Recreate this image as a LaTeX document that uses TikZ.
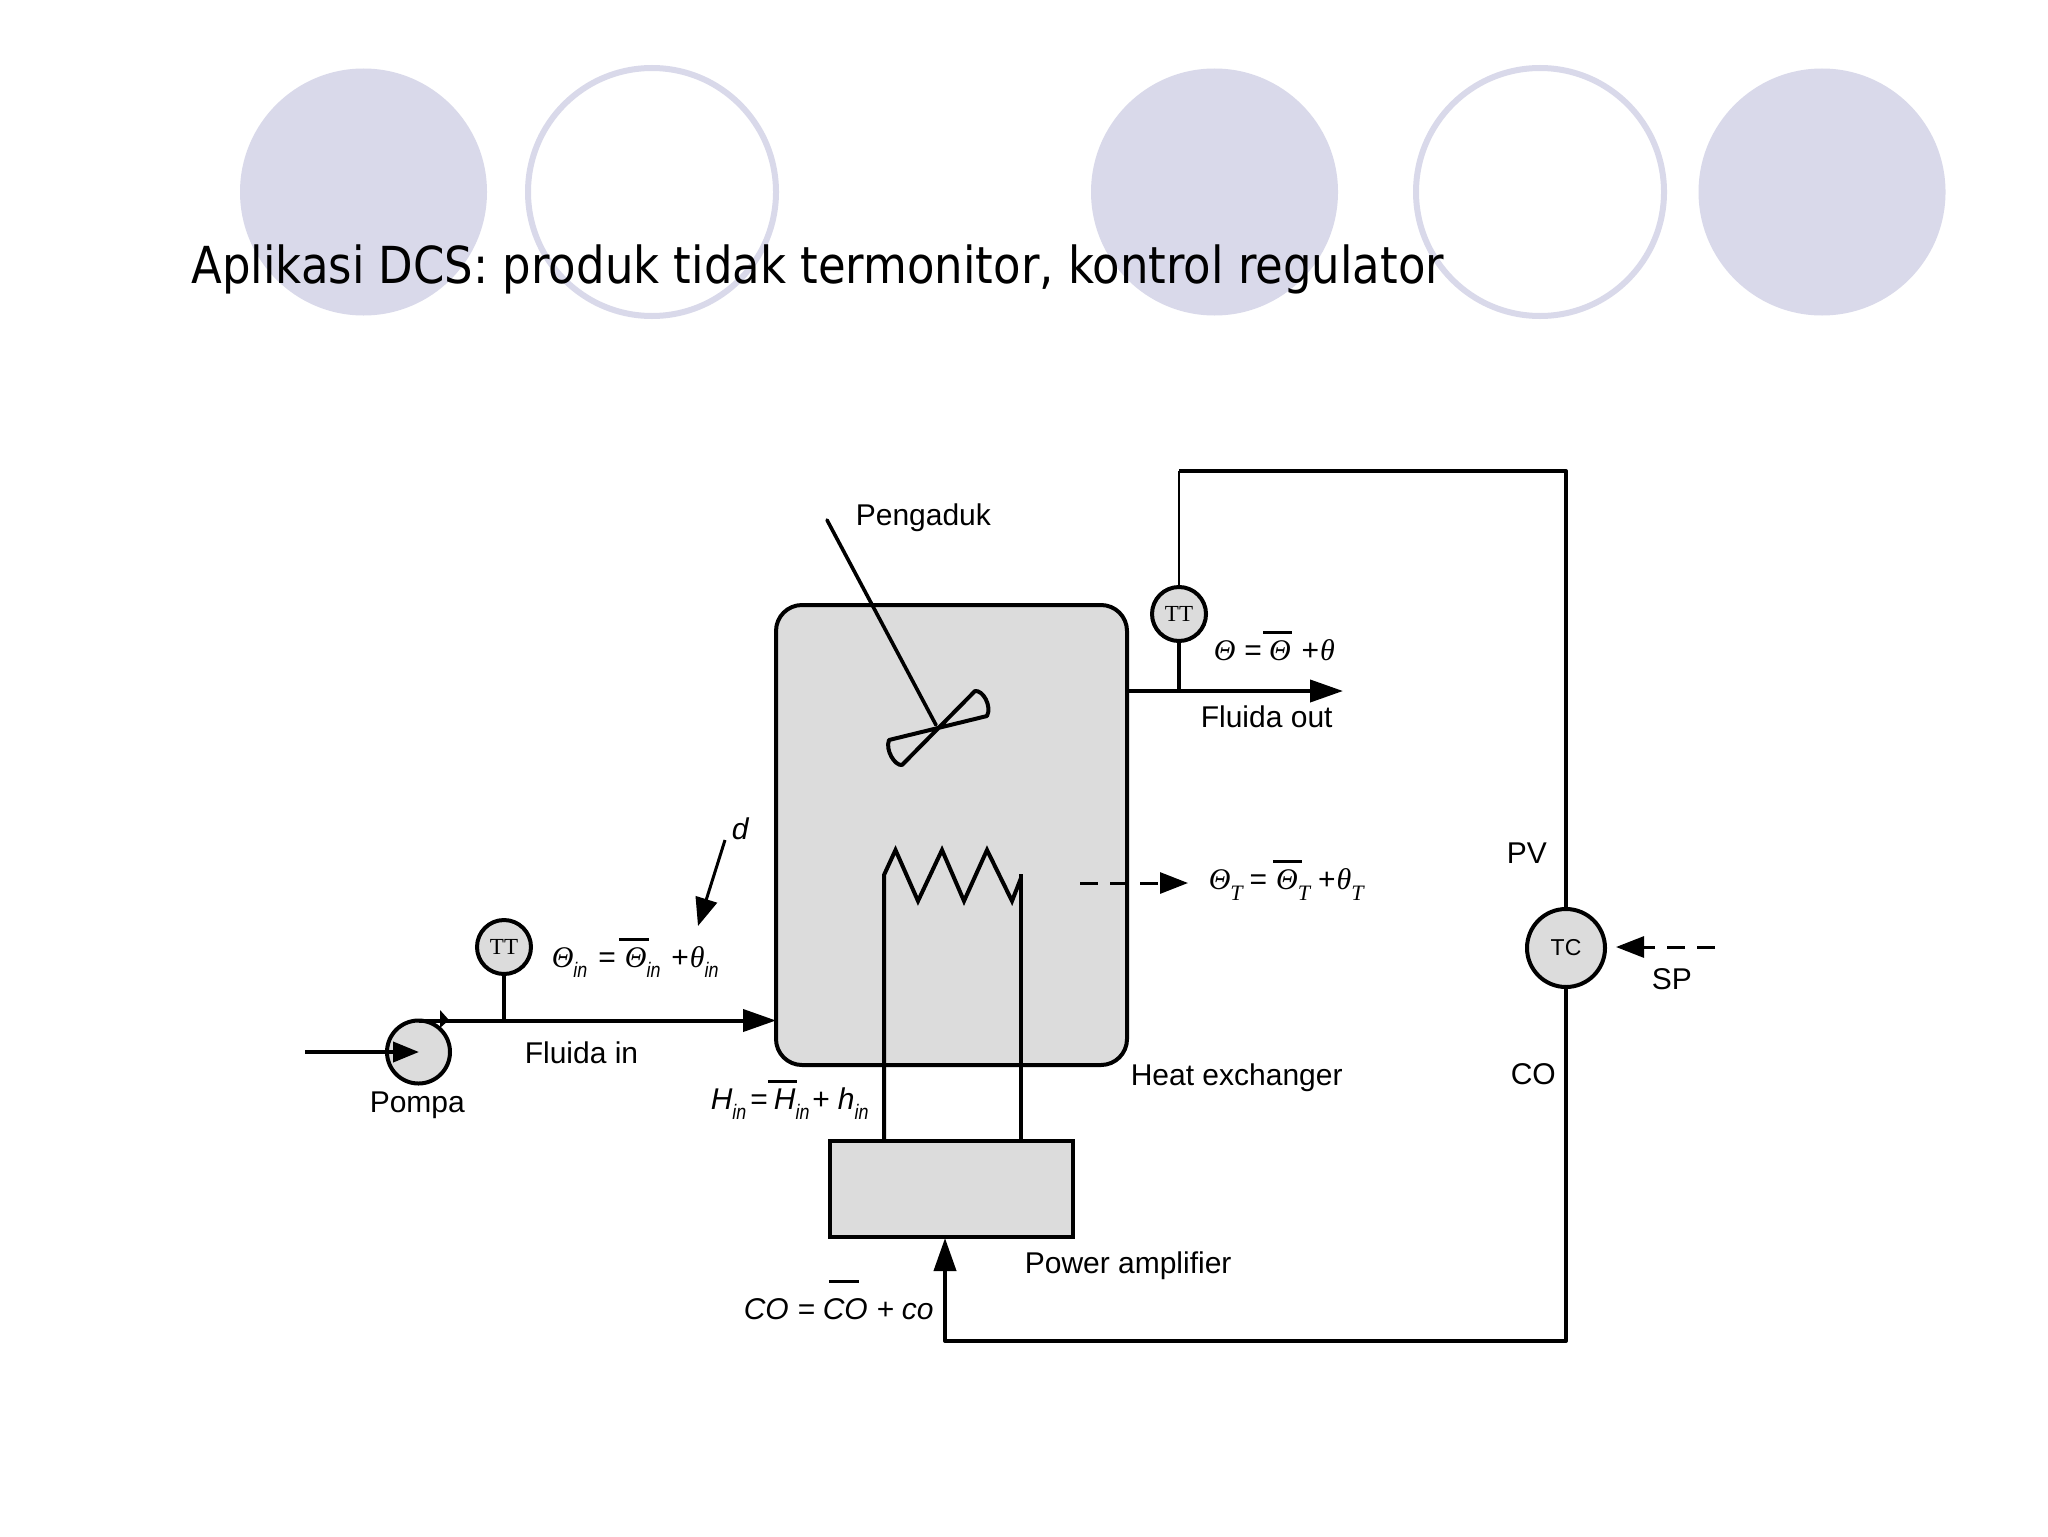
\documentclass[tikz,border=0pt]{standalone}
\usepackage{fontspec}
\usetikzlibrary{arrows.meta}
\setmainfont{Liberation Sans}
\newfontfamily\timesf{Liberation Serif}
\newfontfamily\titlef[FakeStretch=0.882]{DejaVu Sans}
\definecolor{lav}{HTML}{D9D9EA}
\definecolor{fillgray}{HTML}{DCDCDC}
\newcommand\sbs[1]{\raisebox{-5pt}{\scalebox{.85}[1]{\fontsize{10.5}{10.5}\selectfont\itshape #1}}}
\newcommand\sbT{\raisebox{-5.5pt}{\fontsize{11}{11}\selectfont\timesf\itshape T}}
\newcommand\Th{{\timesf\itshape Θ}}
\newcommand\thh{{\timesf\itshape θ}}
\newcommand\ovl[3]{\rlap{\kern #3\raisebox{#1}{\rule{#2}{1.6pt}}}}
\tikzset{
  x=0.5pt,y=-0.5pt,
  pipe/.style={line width=2pt,line join=round},
  thinpipe/.style={line width=1.2pt},
  flow/.style={pipe,-{Triangle[length=16.5pt,width=11pt]}},
  dashflow/.style={line width=1.5pt,dash pattern=on 9pt off 6pt,-{Triangle[length=14pt,width=10.5pt]}},
  deco/.style={circle,fill=lav,draw=none,minimum size=123.5pt,inner sep=0pt},
  ring/.style={circle,fill=white,draw=lav,line width=3pt,minimum size=124pt,inner sep=0pt,outer sep=0pt},
  instr/.style={circle,draw,fill=fillgray,line width=2pt,inner sep=0pt,outer sep=0pt},
  tlabel/.style={anchor=base west,inner sep=0pt,outer sep=0pt,xshift=-0.6pt,font=\fontsize{15}{15}\selectfont},
  ilabel/.style={tlabel,font=\fontsize{15}{15}\selectfont\itshape},
}
\begin{document}
\begin{tikzpicture}
\useasboundingbox (0,0) rectangle (2048,1536);
\fill[white] (0,0) rectangle (2048,1536);
% decorative circles
\node[deco] (c1) at (363.5,192) {};
\node[ring] (c2) at (652,192) {};
\node[deco] (c3) at (1214.5,192) {};
\node[ring] (c4) at (1540,192) {};
\node[deco] (c5) at (1822,192) {};
\node[anchor=base west,inner sep=0pt] (title) at (191,283) {\fontsize{25.5}{26}\selectfont\titlef Aplikasi DCS: produk tidak termonitor, kontrol regulator};
% vessel
\node[draw,fill=fillgray,line width=2pt,rounded corners=13pt,minimum width=175.5pt,minimum height=230pt,inner sep=0pt,outer sep=0pt] (vessel) at (951.5,835) {};
% power amplifier
\node[draw,fill=fillgray,line width=2pt,minimum width=121.5pt,minimum height=48pt,inner sep=0pt,outer sep=0pt] (pa) at (951.5,1189) {};
% instruments
\node[instr,minimum size=31.5pt] (pump) at (418.5,1052) {};
\node[instr,minimum size=27pt,font=\fontsize{11.5}{12}\selectfont\timesf] (ttin) at (504,947) {TT};
\node[instr,minimum size=27pt,font=\fontsize{11.5}{12}\selectfont\timesf] (ttout) at (1179,614) {TT};
\node[instr,minimum size=39pt,font=\fontsize{11.5}{12}\selectfont] (tc) at (1566,948) {TC};
% helper coordinates
\coordinate (inletS) at (305,1052);
\coordinate (pumpC) at (419,1052);
\coordinate (ttinFoot) at (504,1020);
\coordinate (outEnd) at (1343,691);
\coordinate (ttoutFoot) at (1179,691);
\coordinate (topL) at (1179,471);
\coordinate (topR) at (1566,471);
\coordinate (botR) at (1566,1341);
\coordinate (botL) at (945,1341);
\coordinate (paIn) at (945,1238);
\coordinate (dS) at (725,840);
\coordinate (dE) at (698,926);
\coordinate (shaftT) at (827,520);
\coordinate (shaftB) at (936,725);
\coordinate (coilL) at (884,875);
\coordinate (coilR) at (1021,874);
\coordinate (dT1) at (1080,883);
\coordinate (dT2) at (1188,883);
\coordinate (sp1) at (1715,947);
\coordinate (sp2) at (1616,947);
% inlet and fluid in
\draw[line width=2pt,-{Triangle[length=13pt,width=10pt]}] (inletS) -- (pumpC);
\draw[flow] (pump.north) -- (vessel.west |- pump.north);
\fill (440,1010) -- (449,1020) -- (440,1028) -- cycle;
\draw[pipe] (ttin.south) -- (ttinFoot);
% fluid out
\draw[flow] (vessel.east |- outEnd) -- (outEnd);
\draw[pipe] (ttout.south) -- (ttoutFoot);
\draw[thinpipe] (ttout.north) -- (topL);
\draw[pipe] (topL) -- (topR) -- (tc.north);
% control output
\draw[flow] (tc.south) -- (botR) -- (botL) -- (paIn);
% disturbance
\draw[line width=1.5pt,-{Triangle[length=14pt,width=11pt]}] (dS) -- (dE);
% stirrer
\draw[line width=1.8pt,line cap=round] (shaftT) -- (shaftB);
\draw[line width=2pt,line join=round] (987,716) -- (889,740) .. controls (885,750) and (895,766) .. (902,765) -- (975,691) .. controls (983,690) and (992,706) .. (987,716) -- cycle;
% coil
\draw[pipe,line join=miter] (pa.north -| coilL) -- (coilL) -- (895.5,850) -- (918,901) -- (942,850) -- (964,901) -- (987,850) -- (1012,901) -- (1021,878);
\draw[pipe] (pa.north -| coilR) -- (coilR);
% dashed signals
\draw[dashflow] (dT1) -- (dT2);
\draw[dashflow] (sp1) -- (sp2);
% labels
\node[tlabel] (lpeng) at (857,525) {Pengaduk};
\node[tlabel] (lfout) at (1202,727) {Fluida out};
\node[tlabel] (lfin) at (526,1063) {Fluida in};
\node[tlabel] (lpompa) at (371,1112) {Pompa};
\node[tlabel] (lhx) at (1132,1085) {Heat exchanger};
\node[tlabel] (lpa) at (1026,1273) {Power amplifier};
\node[tlabel] (lpv) at (1508,863) {PV};
\node[tlabel] (lco) at (1512,1084) {CO};
\node[tlabel] (lsp) at (1653,989) {SP};
\node[ilabel] (ld) at (733,839) {d};
% formulas
\node[tlabel] (fin) at (553,967) {\Th\sbs{in}\kern5.5pt=\kern4.5pt\ovl{12.8pt}{15pt}{-3pt}\Th\sbs{in}\kern5.5pt+\kern.5pt\thh\sbs{in}};
\node[tlabel] (fout) at (1215,660) {\Th\kern4.5pt=\kern3.5pt\ovl{13pt}{14.5pt}{-3pt}\Th\kern5.5pt+\kern.5pt\thh};
\node[tlabel] (ftank) at (1210,889) {\Th\sbT\kern3.5pt=\kern4.5pt\ovl{13pt}{14.5pt}{-1.5pt}\Th\sbT\kern4pt+\kern.5pt\thh\sbT};
\node[ilabel] (fh) at (712,1109) {H\sbs{in}\kern2pt{\upshape =}\kern3pt\ovl{12.8pt}{14.5pt}{-3pt}H\sbs{in}\kern1.5pt{\upshape +}\kern4pt h\sbs{in}};
\node[ilabel] (fco) at (745,1319) {CO\kern4.5pt{\upshape =}\kern3.75pt\ovl{18pt}{15pt}{3pt}CO\kern4.5pt{\upshape +}\kern3.75pt co};
\end{tikzpicture}
\end{document}
